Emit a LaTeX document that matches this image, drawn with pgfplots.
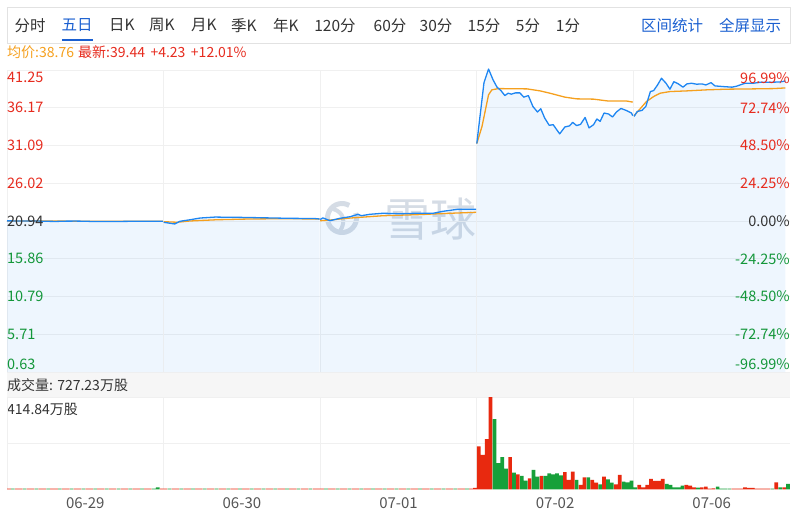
\documentclass[border=0pt]{standalone}
\usepackage{pgfplots}
\pgfplotsset{compat=1.18}
\usepackage{pgfplotstable}
\usepackage{fontspec}
\setmainfont{Noto Sans CJK SC}

\definecolor{lineblue}{HTML}{1E86F2}
\definecolor{avgorange}{HTML}{F5A01E}
\definecolor{upred}{HTML}{E62B1E}
\definecolor{downgreen}{HTML}{13973A}
\definecolor{barred}{HTML}{E8290F}
\definecolor{bargreen}{HTML}{17A03A}
\definecolor{gridgray}{HTML}{F0F0F0}
\definecolor{boxgray}{HTML}{E2E2E2}
\definecolor{txtgray}{HTML}{333333}
\definecolor{dategray}{HTML}{555555}
\definecolor{tabblue}{HTML}{1A5FD0}
\definecolor{bandgray}{HTML}{F6F6F6}
\definecolor{markgray}{HTML}{D5DCE5}

\newcommand\fs[1]{\fontsize{#1}{#1}\selectfont}

% price, one table per trading day (x = minute of the 5-day window)
\pgfplotstableread{
m p
0 20.96
15 20.95
30 20.93
45 20.94
60 20.90
75 20.88
90 20.92
105 20.93
120 20.91
135 20.86
150 20.87
165 20.86
180 20.89
195 20.90
210 20.90
225 20.91
239 20.92
}\blueone
\pgfplotstableread{
m p
0 20.95
60 20.93
120 20.91
180 20.90
239 20.91
}\avgone
\pgfplotstableread{
m p
240 20.77
257 20.54
265 20.90
280 21.10
296 21.34
319 21.47
340 21.44
357 21.43
388 21.38
410 21.34
434 21.30
472 21.27
479 21.21
}\bluetwo
\pgfplotstableread{
m p
240 20.85
261 20.77
280 20.94
322 21.11
372 21.21
423 21.25
479 21.21
}\avgtwo
\pgfplotstableread{
m p
480 21.14
484 21.36
495 20.98
510 21.30
526 21.52
538 21.84
543 21.65
556 21.84
576 21.98
602 21.92
628 21.98
653 21.98
668 22.24
690 22.51
710 22.51
719 22.51
}\bluethree
\pgfplotstableread{
m p
480 20.98
495 21.07
526 21.34
576 21.65
628 21.79
679 21.98
719 22.11
}\avgthree
\pgfplotstableread{
m p
720 31.36
731 39.55
738 41.38
745 39.91
751 38.94
757 38.48
763 37.81
768 38.13
773 38.00
779 38.17
786 38.17
792 37.60
799 37.81
806 36.34
813 35.60
818 36.04
824 34.79
831 33.81
837 33.90
847 32.66
855 33.59
862 33.73
867 34.21
873 33.77
879 33.94
886 34.87
892 33.46
899 33.90
904 34.66
909 34.34
915 35.46
922 35.33
928 34.93
934 35.60
941 36.08
949 35.81
957 35.46
959 35.10
}\bluefour
\pgfplotstableread{
m p
720 31.36
728 33.67
738 37.91
743 38.58
753 38.75
797 38.71
817 38.44
832 38.13
855 37.60
873 37.37
899 37.33
922 37.07
950 37.07
959 36.93
}\avgfour
\pgfplotstableread{
m p
961 35.01
966 35.68
973 35.81
979 36.34
986 38.35
991 38.48
997 39.24
1003 40.14
1010 39.47
1016 38.67
1022 39.68
1029 39.38
1036 38.94
1042 39.38
1049 39.47
1057 39.34
1065 39.38
1071 39.24
1079 39.55
1085 39.11
1098 39.02
1111 38.94
1118 39.07
1131 39.47
1144 39.47
1154 39.60
1169 39.60
1185 39.64
1193 39.78
}\bluefive
\pgfplotstableread{
m p
961 35.10
970 36.00
980 37.01
991 37.68
1001 38.13
1016 38.35
1042 38.44
1072 38.58
1103 38.67
1144 38.71
1175 38.75
1193 38.84
}\avgfive

% volume (10k shares), 6-minute bars
\pgfplotstableread{
m v
3 3
15 3
21 3
33 3
39 3
51 3
57 3
69 3
75 3
87 3
93 3
105 3
111 3
123 3
129 3
141 3
147 3
159 3
165 3
177 3
183 3
195 3
201 3
213 3
219 3
237 3
243 3
255 3
261 3
273 3
279 3
291 3
297 3
309 3
315 3
327 3
333 3
345 3
351 3
363 3
369 3
381 3
387 3
399 3
405 3
417 3
423 3
435 3
441 3
453 3
459 3
471 3
477 3
483 3
495 3
501 3
513 3
519 3
531 3
537 3
549 3
555 3
567 3
573 3
585 3
591 3
603 3
609 3
621 3
627 3
639 3
645 3
657 3
663 3
675 3
681 3
693 3
699 3
711 3
717 6
723 192.4
729 154.8
735 225.5
741 414.8
771 144.3
783 67.6
801 49.6
819 60.1
855 76.7
861 42.1
867 79.7
879 19.5
885 54.1
897 42.1
903 30.1
915 57.1
933 22.5
939 64.6
969 19.5
975 9.0
981 19.5
987 46.6
993 37.6
999 37.6
1005 46.6
1041 19.5
1047 16.5
1053 9.0
1065 9.0
1071 12.0
1077 3
1083 4.5
1113 3
1119 3
1125 3
1131 9.0
1137 6.0
1143 6.0
1149 3
1155 3
1161 3
1167 3
1179 31.6
1191 9.0
}\volred
\pgfplotstableread{
m v
9 3
27 3
45 3
63 3
81 3
99 3
117 3
135 3
153 3
171 3
189 3
207 3
225 3
231 9
249 3
267 3
285 3
303 3
321 3
339 3
357 3
375 3
393 3
411 3
429 3
447 3
465 3
489 3
507 3
525 3
543 3
561 3
579 3
597 3
615 3
633 3
651 3
669 3
687 3
705 3
747 315.6
753 117.2
759 144.3
765 93.2
777 75.2
789 60.1
795 39.1
807 87.2
813 57.1
825 60.1
831 72.1
837 67.6
843 72.1
849 63.1
873 42.1
891 54.1
909 22.5
921 45.1
927 30.1
945 34.6
951 31.6
957 39.1
963 9.0
1011 24.0
1017 19.5
1023 9.0
1029 9.0
1035 16.5
1059 7.5
1089 12.0
1095 3
1101 3
1107 3
1173 3
1185 9.0
1197 24.0
}\volgreen

\begin{document}
\begin{tikzpicture}
\path[use as bounding box] (0pt,0pt) rectangle (800pt,-511pt);

% period tabs
\draw[boxgray, line width=0.8pt] (7pt,-7.5pt) rectangle (790pt,-43pt);
\foreach \x/\t in {30/分时,122/日K,162/周K,204/月K,244/季K,286/年K,335/120分,390/60分,436/30分,484/15分,528/5分,568/1分}
  \node[text=txtgray, font=\fs{15.5}, inner sep=0pt] at (\x pt,-25.5pt) {\t};
\node[text=tabblue, font=\fs{15.5}, inner sep=0pt] at (77pt,-25.5pt) {五日};
\draw[tabblue, line width=2pt] (62pt,-40.5pt) -- (93pt,-40.5pt);
\node[text=tabblue, font=\fs{15.5}, inner sep=0pt] at (672pt,-25.5pt) {区间统计};
\node[text=tabblue, font=\fs{15.5}, inner sep=0pt] at (750pt,-25.5pt) {全屏显示};

% quote line
\node[anchor=west, text=avgorange, font=\fs{14}, inner sep=0pt] at (7pt,-52.5pt) {均价:38.76};
\node[anchor=west, text=upred, font=\fs{14}, inner sep=0pt] at (78pt,-52.5pt) {最新:39.44\, +4.23\, +12.01\%};

% watermark
\draw[markgray, line width=5pt] (342pt,-218pt) ++(60:14.5pt) arc (60:380:14.5pt);
\draw[markgray, line width=4pt] (333pt,-209pt) .. controls (344pt,-212pt) and (346pt,-222pt) .. (340pt,-231pt);
\node[text=markgray, font=\fs{46}, inner sep=0pt] at (430pt,-219pt) {雪球};

% price panel
\begin{axis}[
  at={(7pt,-70pt)}, anchor=north west,
  width=783pt, height=302pt, scale only axis,
  xmin=0, xmax=1200, ymin=0.63, ymax=41.25,
  clip=false,
  axis line style={draw=none}, tick style={draw=none},
  xtick={0,240,480,720,960}, xticklabels={},
  ytick={0.63,5.71,10.79,15.86,20.94,26.02,31.09,36.17,41.25}, yticklabels={},
  grid=major, major grid style={gridgray, line width=0.8pt},
]
\addplot[draw=none, fill=lineblue, fill opacity=0.075] table[x=m,y=p] {\blueone} -- (axis cs:239,0.63) -- (axis cs:0,0.63) -- cycle;
\addplot[draw=none, fill=lineblue, fill opacity=0.075] table[x=m,y=p] {\bluetwo} -- (axis cs:479,0.63) -- (axis cs:240,0.63) -- cycle;
\addplot[draw=none, fill=lineblue, fill opacity=0.075] table[x=m,y=p] {\bluethree} -- (axis cs:719,0.63) -- (axis cs:480,0.63) -- cycle;
\addplot[draw=none, fill=lineblue, fill opacity=0.075] table[x=m,y=p] {\bluefour} -- (axis cs:959,0.63) -- (axis cs:720,0.63) -- cycle;
\addplot[draw=none, fill=lineblue, fill opacity=0.075] table[x=m,y=p] {\bluefive} -- (axis cs:1193,0.63) -- (axis cs:961,0.63) -- cycle;
\addplot[avgorange, line width=1.3pt, line join=round] table[x=m,y=p] {\avgone};
\addplot[avgorange, line width=1.3pt, line join=round] table[x=m,y=p] {\avgtwo};
\addplot[avgorange, line width=1.3pt, line join=round] table[x=m,y=p] {\avgthree};
\addplot[avgorange, line width=1.3pt, line join=round] table[x=m,y=p] {\avgfour};
\addplot[avgorange, line width=1.3pt, line join=round] table[x=m,y=p] {\avgfive};
\addplot[lineblue, line width=1.3pt, line join=round] table[x=m,y=p] {\blueone};
\addplot[lineblue, line width=1.3pt, line join=round] table[x=m,y=p] {\bluetwo};
\addplot[lineblue, line width=1.3pt, line join=round] table[x=m,y=p] {\bluethree};
\addplot[lineblue, line width=1.3pt, line join=round] table[x=m,y=p] {\bluefour};
\addplot[lineblue, line width=1.3pt, line join=round] table[x=m,y=p] {\bluefive};

\tikzset{pl/.style={font=\fs{14.5}, inner sep=0pt}}
\node[pl, anchor=north west, text=upred] at (axis cs:0,40.95) {41.25};
\node[pl, anchor=west, text=upred] at (axis cs:0,36.17) {36.17};
\node[pl, anchor=west, text=upred] at (axis cs:0,31.09) {31.09};
\node[pl, anchor=west, text=upred] at (axis cs:0,26.02) {26.02};
\node[pl, anchor=west, text=txtgray] at (axis cs:0,20.94) {20.94};
\node[pl, anchor=west, text=downgreen] at (axis cs:0,15.86) {15.86};
\node[pl, anchor=west, text=downgreen] at (axis cs:0,10.79) {10.79};
\node[pl, anchor=west, text=downgreen] at (axis cs:0,5.71) {5.71};
\node[pl, anchor=south west, text=downgreen] at (axis cs:0,0.93) {0.63};
\node[pl, anchor=north east, text=upred] at (axis cs:1200,40.95) {96.99\%};
\node[pl, anchor=east, text=upred] at (axis cs:1200,36.17) {72.74\%};
\node[pl, anchor=east, text=upred] at (axis cs:1200,31.09) {48.50\%};
\node[pl, anchor=east, text=upred] at (axis cs:1200,26.02) {24.25\%};
\node[pl, anchor=east, text=txtgray] at (axis cs:1200,20.94) {0.00\%};
\node[pl, anchor=east, text=downgreen] at (axis cs:1200,15.86) {-24.25\%};
\node[pl, anchor=east, text=downgreen] at (axis cs:1200,10.79) {-48.50\%};
\node[pl, anchor=east, text=downgreen] at (axis cs:1200,5.71) {-72.74\%};
\node[pl, anchor=south east, text=downgreen] at (axis cs:1200,0.93) {-96.99\%};
\end{axis}

% volume header
\fill[bandgray] (7pt,-373pt) rectangle (790pt,-396.5pt);
\node[anchor=west, text=txtgray, font=\fs{14}, inner sep=0pt] at (7pt,-385pt) {成交量: 727.23万股};
\node[anchor=west, text=txtgray, font=\fs{14}, inner sep=0pt] at (7pt,-409pt) {414.84万股};

% volume panel
\begin{axis}[
  at={(7pt,-397pt)}, anchor=north west,
  width=783pt, height=92.3pt, scale only axis,
  xmin=0, xmax=1200, ymin=0, ymax=414.84,
  ybar, bar width=5.6,
  axis line style={draw=none}, tick style={draw=none},
  xtick={120,360,600,840,1080}, xticklabels={06-29,06-30,07-01,07-02,07-06},
  xticklabel style={font=\fs{15}, text=dategray, yshift=-1pt},
  extra x ticks={0,240,480,720,960}, extra x tick labels={},
  extra x tick style={grid=major},
  ytick={207.42,414.84}, yticklabels={}, ymajorgrids,
  major grid style={gridgray, line width=0.8pt},
]
\addplot[bar shift=0pt, draw=none, fill=barred] table[x=m,y=v] {\volred};
\addplot[bar shift=0pt, draw=none, fill=bargreen] table[x=m,y=v] {\volgreen};
\end{axis}
\end{tikzpicture}
\end{document}
